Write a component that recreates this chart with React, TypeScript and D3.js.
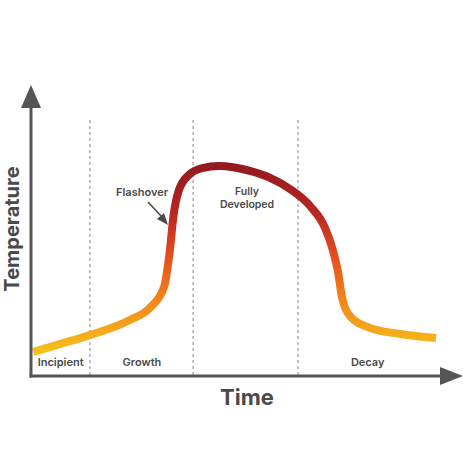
import * as d3 from "d3";

// Fire development curve (time vs temperature, arbitrary units 0..100)
const time = [0.5, 6.7, 13.7, 23, 27.7, 30.9, 32.3, 33.1, 34.4, 36.7, 39.8, 43.7, 50.9, 55.6, 60.2, 64.9, 68.4, 70.2, 71.4, 72.4, 74.4, 78.8, 85.8, 94.2];
const temp = [8.3, 11, 14.1, 19.3, 23.6, 30.5, 43.4, 54.8, 64.1, 69.3, 71.7, 72.4, 70.7, 68.3, 64.5, 58.6, 51.0, 43.4, 35.9, 26.6, 20.3, 16.6, 14.5, 13.1];

const phaseBounds = [13.7, 37.7, 62.1];
const phaseLabels = ["Incipient", "Growth", "Decay"];
const phaseLabelTime = [6.9, 25.8, 78.3];

const W = 474;
const H = 474;
const FONT = "Inter, 'Noto Sans', sans-serif";
const AXIS = "#555555";
const TEXT = "#4a4a4a";

export default function App() {
  const x = d3.scaleLinear().domain([0, 100]).range([31, 461]);
  const y = d3.scaleLinear().domain([0, 100]).range([376, 86]);

  const pts = time.map((t, i) => [t, temp[i]] as [number, number]);
  const line = d3
    .line<[number, number]>()
    .x((d) => x(d[0]))
    .y((d) => y(d[1]))
    .curve(d3.curveMonotoneX);

  const x0 = x(0);
  const y0 = y(0);

  return (
    <svg
      width={W}
      height={H}
      style={{ position: "absolute", left: 0, top: 0, background: "#fff" }}
    >
      <defs>
        <linearGradient
          id="fire"
          gradientUnits="userSpaceOnUse"
          x1={0}
          x2={0}
          y1={y(72.4)}
          y2={y(8.3)}
        >
          <stop offset="0" stopColor="#931a1f" />
          <stop offset="0.25" stopColor="#b8261f" />
          <stop offset="0.5" stopColor="#e5521f" />
          <stop offset="0.72" stopColor="#f2851a" />
          <stop offset="1" stopColor="#f6c11c" />
        </linearGradient>
      </defs>

      {/* phase separators */}
      {phaseBounds.map((b) => (
        <line
          key={b}
          x1={x(b)}
          x2={x(b)}
          y1={120}
          y2={y0}
          stroke="#9a9a9a"
          strokeWidth={1.2}
          strokeDasharray="3 3"
        />
      ))}

      {/* curve */}
      <path d={line(pts) ?? ""} fill="none" stroke="url(#fire)" strokeWidth={8} />

      {/* axes */}
      <line x1={x0} x2={x0} y1={y0 + 1.5} y2={104} stroke={AXIS} strokeWidth={3} />
      <path d={`M${x0},85 L${x0 - 10},108 L${x0 + 10},108 Z`} fill={AXIS} />
      <line x1={x0 - 1.5} x2={442} y1={y0} y2={y0} stroke={AXIS} strokeWidth={3} />
      <path d={`M463,${y0} L440,${y0 - 9} L440,${y0 + 9} Z`} fill={AXIS} />

      {/* phase labels */}
      {phaseLabels.map((l, i) => (
        <text
          key={l}
          x={x(phaseLabelTime[i])}
          y={366}
          textAnchor="middle"
          fontFamily={FONT}
          fontWeight={600}
          fontSize={11}
          fill={TEXT}
        >
          {l}
        </text>
      ))}

      <text x={247} y={195} textAnchor="middle" fontFamily={FONT} fontWeight={600} fontSize={10.5} fill={TEXT}>
        Fully
      </text>
      <text x={247} y={208} textAnchor="middle" fontFamily={FONT} fontWeight={600} fontSize={10.5} fill={TEXT}>
        Developed
      </text>

      <text x={142} y={196} textAnchor="middle" fontFamily={FONT} fontWeight={600} fontSize={11} fill={TEXT}>
        Flashover
      </text>
      <line x1={148} y1={202} x2={162} y2={217} stroke={TEXT} strokeWidth={1.6} />
      <path d="M168,225 L157,219 L164,213 Z" fill={TEXT} />

      {/* axis titles */}
      <text x={247} y={405} textAnchor="middle" fontFamily={FONT} fontWeight={700} fontSize={22} fill={TEXT}>
        Time
      </text>
      <text
        transform="translate(19,229) rotate(-90)"
        textAnchor="middle"
        fontFamily={FONT}
        fontWeight={700}
        fontSize={20}
        fill={TEXT}
      >
        Temperature
      </text>
    </svg>
  );
}
